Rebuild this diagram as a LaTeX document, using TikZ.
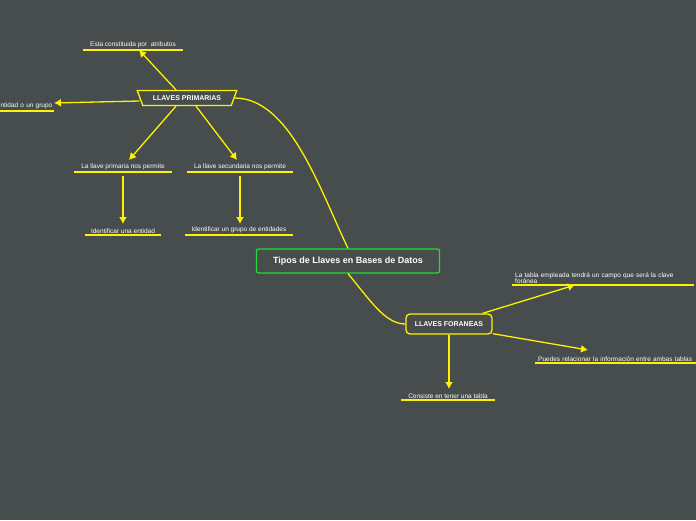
\documentclass[tikz,border=0pt]{standalone}
\usepackage{fontspec}
\setmainfont{Liberation Sans}
\usetikzlibrary{shapes.geometric,arrows.meta}
\definecolor{bg}{HTML}{474C4C}
\definecolor{ylw}{HTML}{FFF200}
\definecolor{grn}{HTML}{22DD33}
\tikzset{
  leaf/.style={anchor=south, text=white, inner sep=1.5pt, font=\fontsize{6.5}{7.5}\selectfont},
  uline/.style={ylw, line width=1.3pt},
  link/.style={ylw, line width=1.3pt, -{Latex[length=7pt,width=8pt]}},
  curve/.style={ylw, line width=1.3pt},
}
\begin{document}
\begin{tikzpicture}[x=1pt, y=-1pt]
    \fill[bg] (0,0) rectangle (696,520);% background
    \useasboundingbox (0,0) rectangle (696,520);

    % main topic
    \node[draw=grn, line width=1.3pt, rounded corners=2pt, text=white, minimum width=183pt,
          minimum height=24pt, font=\bfseries\fontsize{9}{10}\selectfont] (root) at (348,261)
          {Tipos de Llaves en Bases de Datos};
    \node[draw=ylw, line width=1.3pt, trapezium, trapezium stretches=true, trapezium angle=68,
          shape border rotate=180, minimum width=100pt, minimum height=15pt, text=white,
          font=\bfseries\fontsize{7}{8}\selectfont] (pri) at (187,98) {LLAVES PRIMARIAS};
    \node[draw=ylw, line width=1.3pt, rounded corners=4pt, minimum width=86pt, minimum height=20pt,
          text=white, font=\bfseries\fontsize{7}{8}\selectfont] (for) at (449,324) {LLAVES FORANEAS};

    % leaves (anchor sits on the underline)
    \node[leaf, minimum width=99pt] (esta) at (133,50) {Esta constituida por \ atributos};
    \node[leaf, anchor=south east, minimum width=54pt, text width=100pt, align=right] (grupo) at (54,111)
          {Identificar una entidad o un grupo};
    \node[leaf, minimum width=97pt] (llp) at (123,172) {La llave primaria nos permite};
    \node[leaf, minimum width=106pt] (lls) at (240,172) {La llave secundaria nos permite};
    \node[leaf, minimum width=76pt] (ent) at (123,235) {Identificar una entidad};
    \node[leaf, minimum width=108pt] (ents) at (239,235) {Identificar un grupo de entidades};
    \node[leaf, anchor=south west, minimum width=182pt, text width=176pt, align=left] (tabla) at (512,285)
          {La tabla empleada tendrá un campo que será la clave\\[-1.5pt]foránea};
    \node[leaf, anchor=south west, minimum width=170pt, text width=164pt, align=left] (relac) at (535,363)
          {Puedes relacionar la información entre ambas tablas};
    \node[leaf, minimum width=93pt] (cons) at (448,400) {Consiste en tener una tabla};
    \foreach \n in {esta,llp,lls,ent,ents,tabla,relac,cons}{
      \draw[uline] (\n.south west) -- (\n.south east);
    }
    \draw[uline] (0,111) -- (grupo.south east);

    % branches
    \draw[curve] (pri.east) .. controls (290,98) and (320,190) .. (root.north);
    \draw[curve] (root.south) .. controls (370,300) and (385,324) .. (for.west);

    % arrows
    \draw[link] ([xshift=-11pt]pri.north) -- ([xshift=6pt]esta.south);
    \draw[link] ([yshift=-3pt]pri.west) -- ([yshift=8pt]grupo.south east);
    \draw[link] ([xshift=-11pt]pri.south) -- ([xshift=6pt,yshift=12pt]llp.south);
    \draw[link] ([xshift=9pt]pri.south) -- ([xshift=-3pt,yshift=12pt]lls.south);
    \draw[link] ([yshift=-4pt]llp.south) -- ([yshift=11pt]ent.south);
    \draw[link] ([yshift=-4pt]lls.south) -- ([xshift=1pt,yshift=11pt]ents.south);
    \draw[link] ([xshift=-10pt]for.north east) -- ([xshift=63pt]tabla.south west);
    \draw[link] ([yshift=1pt]for.south east) -- ([xshift=53pt,yshift=13pt]relac.south west);
    \draw[link] (for.south) -- ([xshift=1pt,yshift=11pt]cons.south);
\end{tikzpicture}
\end{document}
